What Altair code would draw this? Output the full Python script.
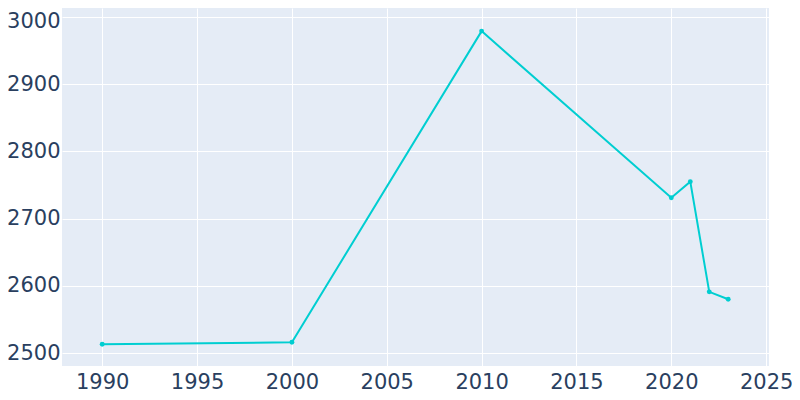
import altair as alt
import pandas as pd

years = [1990, 2000, 2010, 2020, 2021, 2022, 2023]
population = [2513, 2516, 2979, 2731, 2755, 2591, 2580]

x_ticks = [1990, 1995, 2000, 2005, 2010, 2015, 2020, 2025]
y_ticks = [2500, 2600, 2700, 2800, 2900, 3000]

df = pd.DataFrame({"Year": years, "Population": population})

line = alt.Chart(df).mark_line(
    color="#00CED1", strokeWidth=2,
    point=alt.OverlayMarkDef(color="#00CED1", size=24, filled=True, opacity=1)
).encode(
    x=alt.X("Year:Q", scale=alt.Scale(domain=[1987.88, 2025.15], nice=False, zero=False),
            axis=alt.Axis(values=x_ticks, format="d", title=None)),
    y=alt.Y("Population:Q", scale=alt.Scale(domain=[2480.7, 3013.4], nice=False, zero=False),
            axis=alt.Axis(values=y_ticks, format="d", title=None,
                          # nudge the top label so it stays inside the page
                          labelOffset={"condition": {"test": "datum.value == 3000", "value": 4}, "value": 0})),
)

chart = line.properties(
    width=707,
    height=358,
    autosize=alt.AutoSizeParams(type="none"),
    padding={"left": 54, "top": 0, "right": 23, "bottom": 26},
).configure_view(
    fill="#E5ECF6", stroke=None
).configure_axis(
    grid=True, gridColor="white", gridWidth=1, gridOpacity=1,
    domain=False, ticks=False,
    labelFont="DejaVu Sans", labelFontSize=21, labelColor="#2a3f5f",
).configure_axisY(
    labelPadding=2
).configure_axisX(
    labelPadding=5
)

chart.save("out.html", embed_options={"renderer": "svg", "actions": False})
